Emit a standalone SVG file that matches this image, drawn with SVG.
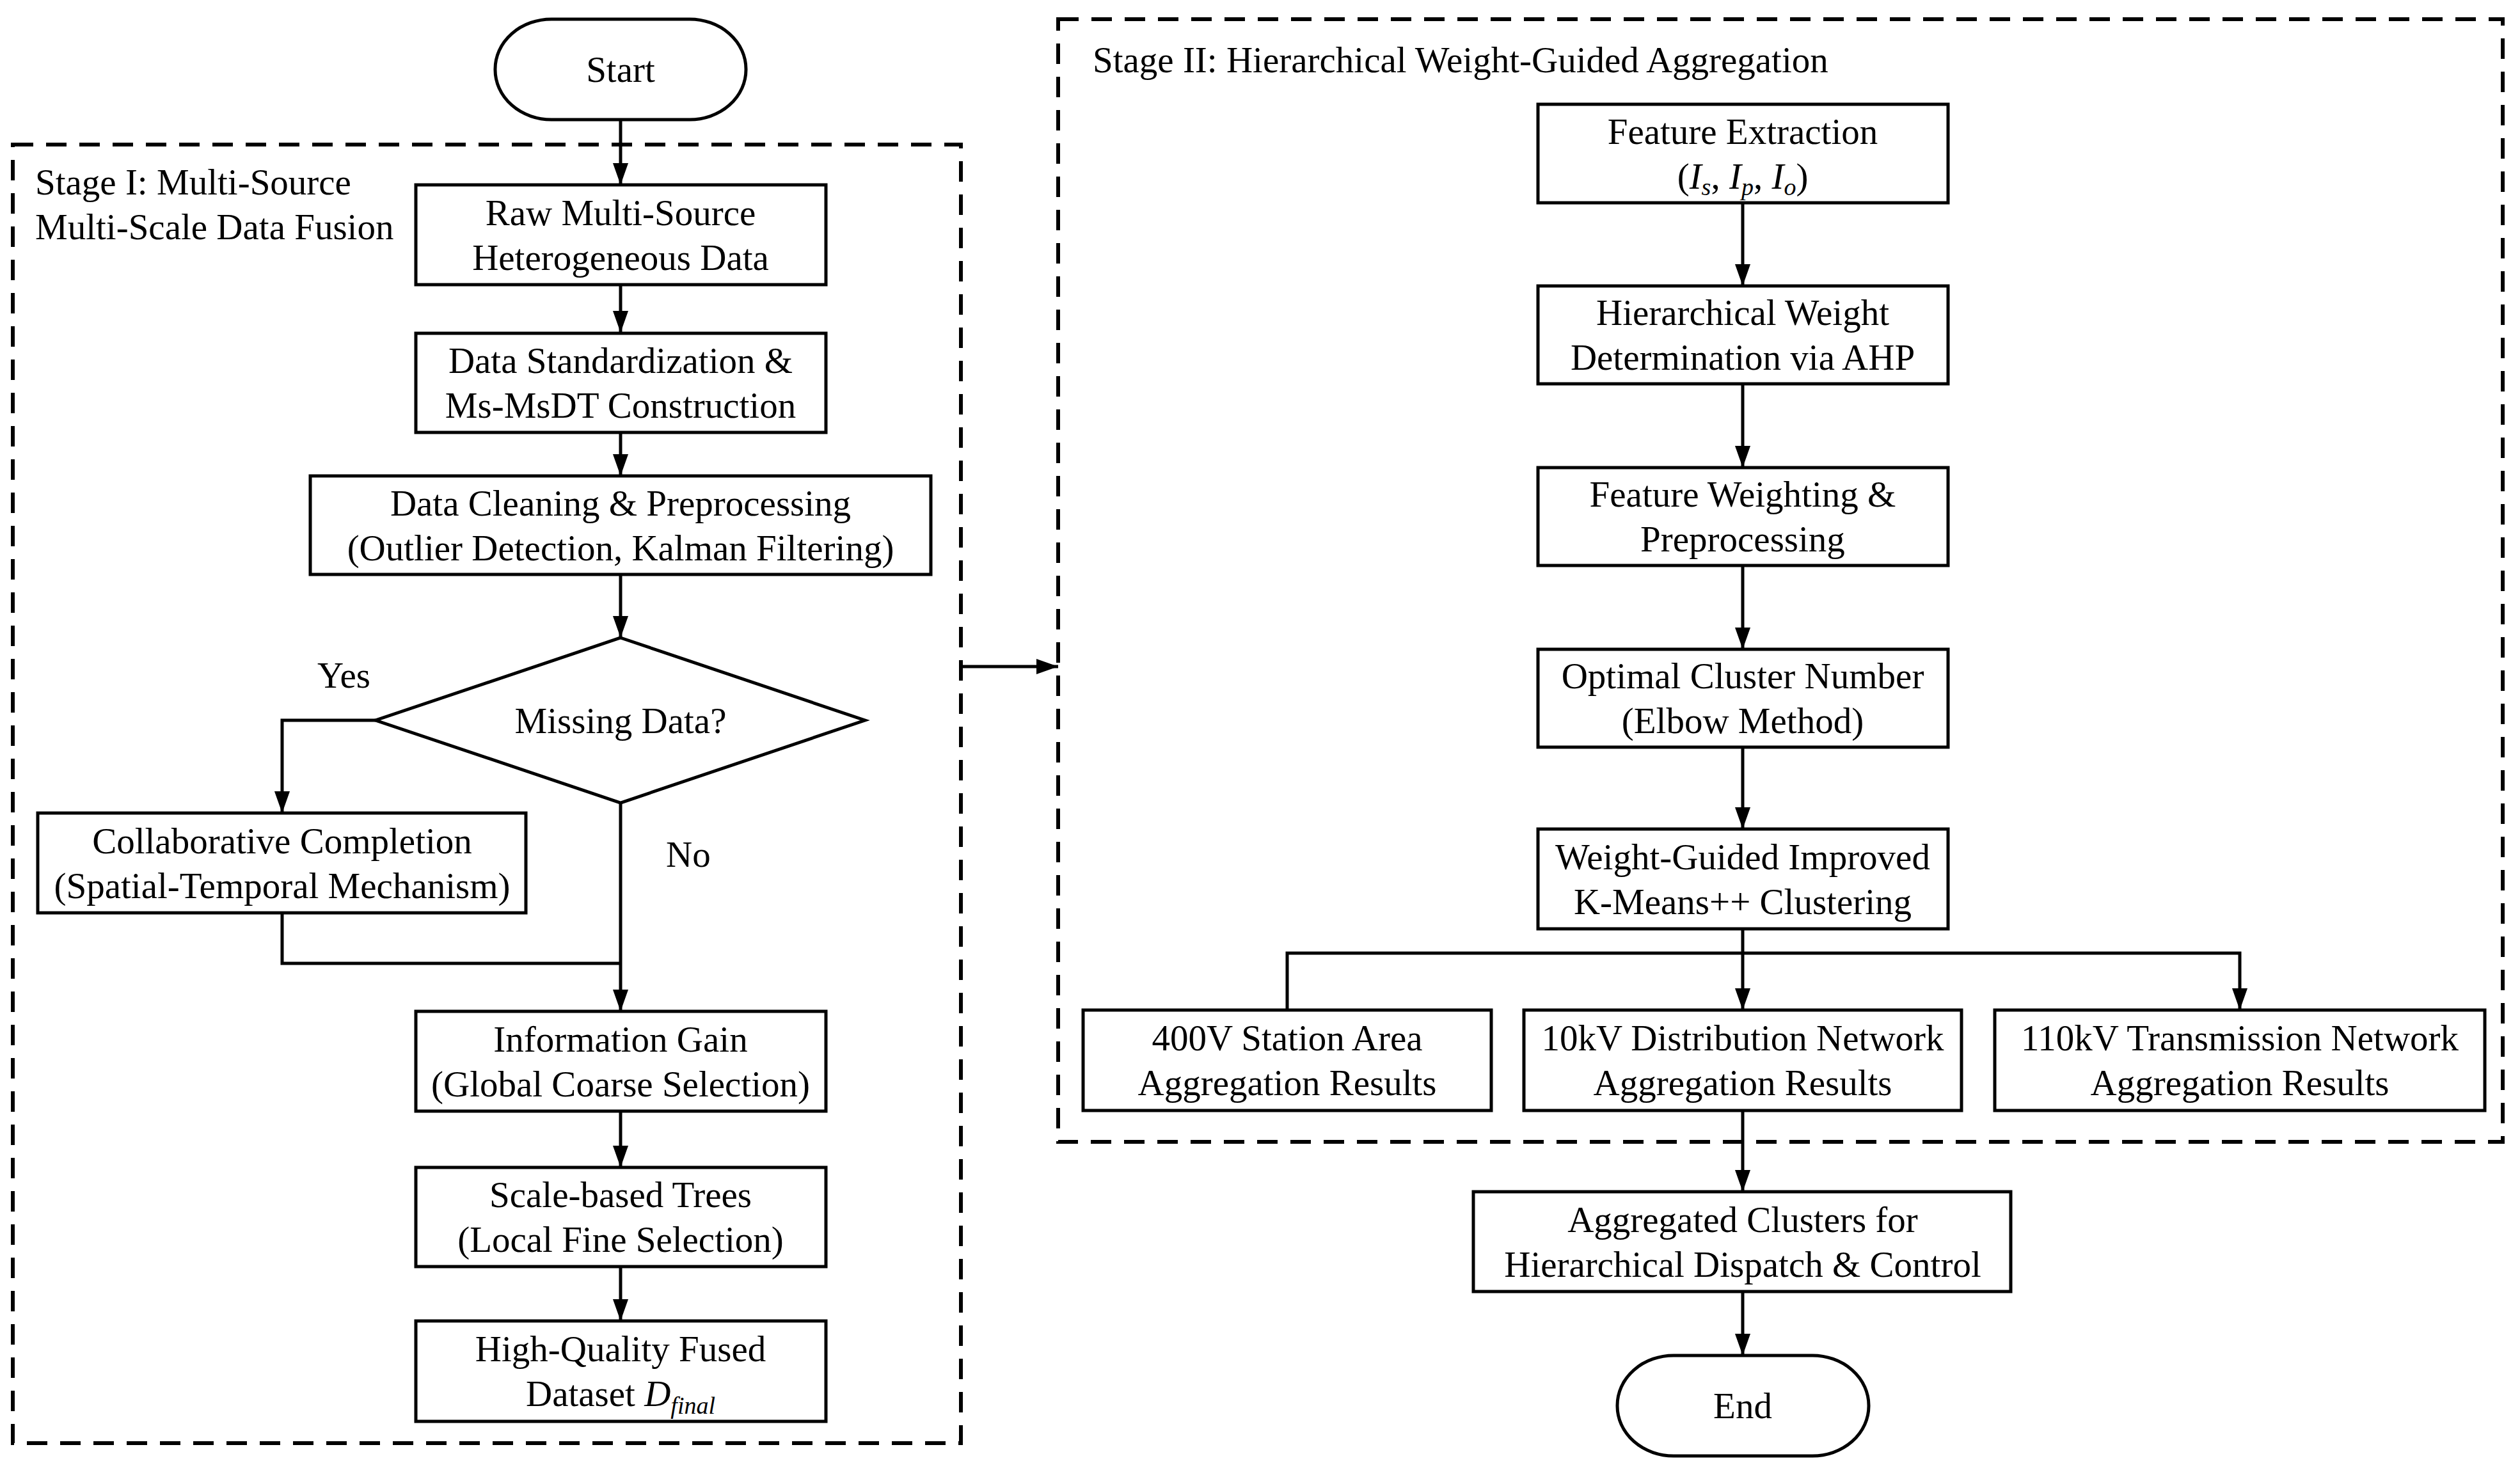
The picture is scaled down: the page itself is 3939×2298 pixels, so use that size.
<svg xmlns="http://www.w3.org/2000/svg" width="3939" height="2298" viewBox="0 0 3939 2298">
<style>
.b{fill:#fff;stroke:#000;stroke-width:5}
.d{fill:none;stroke:#000;stroke-width:6;stroke-dasharray:32 20}
.c{fill:none;stroke:#000;stroke-width:5}
text{font-family:"Liberation Serif","Times New Roman",serif;font-size:57px;fill:#000}
.m{text-anchor:middle}
</style>
<defs>
<marker id="a" markerUnits="userSpaceOnUse" markerWidth="34" markerHeight="48" refX="48" refY="17" orient="auto" viewBox="0 0 48 34"><path d="M0,0 L48,17 L0,34 Z" fill="#000"/></marker>
</defs>
<rect class="d" x="20" y="226" width="1482" height="2030"/>
<rect class="d" x="1654" y="30" width="2258" height="1755"/>
<text x="55" y="304">Stage I: Multi-Source</text>
<text x="55" y="374">Multi-Scale Data Fusion</text>
<text x="1708" y="113">Stage II: Hierarchical Weight-Guided Aggregation</text>
<g id="connectors">
<path class="c" marker-end="url(#a)" d="M970,187V289"/>
<path class="c" marker-end="url(#a)" d="M970,445V520"/>
<path class="c" marker-end="url(#a)" d="M970,676V744"/>
<path class="c" marker-end="url(#a)" d="M970,898V997"/>
<path class="c" marker-end="url(#a)" d="M587,1126H441V1271"/>
<path class="c" d="M441,1427V1506H970"/>
<path class="c" marker-end="url(#a)" d="M970,1255V1581"/>
<path class="c" marker-end="url(#a)" d="M970,1737V1825"/>
<path class="c" marker-end="url(#a)" d="M970,1980V2065"/>
<path class="c" marker-end="url(#a)" d="M1502,1042H1654"/>
<path class="c" marker-end="url(#a)" d="M2724,317V447"/>
<path class="c" marker-end="url(#a)" d="M2724,600V731"/>
<path class="c" marker-end="url(#a)" d="M2724,884V1015"/>
<path class="c" marker-end="url(#a)" d="M2724,1168V1296"/>
<path class="c" marker-end="url(#a)" d="M2724,1452V1579"/>
<path class="c" marker-end="url(#a)" d="M2012,1579V1490H3501V1579"/>
<path class="c" marker-end="url(#a)" d="M2724,1736V1863"/>
<path class="c" marker-end="url(#a)" d="M2724,2019V2119"/>
<text x="496" y="1075">Yes</text>
<text x="1041" y="1355">No</text>
</g>
<g id="start"><rect class="b" x="774" y="30" width="392" height="157" rx="88" ry="78"/><text class="m" x="970" y="128">Start</text></g>
<g id="raw"><rect class="b" x="650" y="289" width="641" height="156"/><text class="m" x="970" y="352">Raw Multi-Source</text><text class="m" x="970" y="422">Heterogeneous Data</text></g>
<g id="std"><rect class="b" x="650" y="521" width="641" height="155"/><text class="m" x="970" y="583">Data Standardization &amp;</text><text class="m" x="970" y="653">Ms-MsDT Construction</text></g>
<g id="clean"><rect class="b" x="485" y="744" width="970" height="154"/><text class="m" x="970" y="806">Data Cleaning &amp; Preprocessing</text><text class="m" x="970" y="876">(Outlier Detection, Kalman Filtering)</text></g>
<g id="missing"><path class="b" d="M970,997L1352,1126L970,1255L587,1126Z"/><text class="m" x="970" y="1146">Missing Data?</text></g>
<g id="collab"><rect class="b" x="59" y="1271" width="763" height="156"/><text class="m" x="441" y="1334">Collaborative Completion</text><text class="m" x="441" y="1404">(Spatial-Temporal Mechanism)</text></g>
<g id="info"><rect class="b" x="650" y="1581" width="641" height="156"/><text class="m" x="970" y="1644">Information Gain</text><text class="m" x="970" y="1714">(Global Coarse Selection)</text></g>
<g id="scale"><rect class="b" x="650" y="1825" width="641" height="155"/><text class="m" x="970" y="1887">Scale-based Trees</text><text class="m" x="970" y="1957">(Local Fine Selection)</text></g>
<g id="hq"><rect class="b" x="650" y="2065" width="641" height="157"/><text class="m" x="970" y="2128">High-Quality Fused</text><text class="m" x="970" y="2198">Dataset <tspan font-style="italic">D</tspan><tspan font-style="italic" font-size="38" dy="12">final</tspan></text></g>
<g id="fe"><rect class="b" x="2404" y="163" width="641" height="154"/><text class="m" x="2724" y="225">Feature Extraction</text><text class="m" x="2724" y="295">(<tspan font-style="italic">I</tspan><tspan font-style="italic" font-size="38" dy="10">s</tspan><tspan dy="-10">, </tspan><tspan font-style="italic">I</tspan><tspan font-style="italic" font-size="38" dy="10">p</tspan><tspan dy="-10">, </tspan><tspan font-style="italic">I</tspan><tspan font-style="italic" font-size="38" dy="10">o</tspan><tspan dy="-10">)</tspan></text></g>
<g id="ahp"><rect class="b" x="2404" y="447" width="641" height="153"/><text class="m" x="2724" y="508">Hierarchical Weight</text><text class="m" x="2724" y="578">Determination via AHP</text></g>
<g id="fw"><rect class="b" x="2404" y="731" width="641" height="153"/><text class="m" x="2724" y="792">Feature Weighting &amp;</text><text class="m" x="2724" y="862">Preprocessing</text></g>
<g id="ocn"><rect class="b" x="2404" y="1015" width="641" height="153"/><text class="m" x="2724" y="1076">Optimal Cluster Number</text><text class="m" x="2724" y="1146">(Elbow Method)</text></g>
<g id="km"><rect class="b" x="2404" y="1296" width="641" height="156"/><text class="m" x="2724" y="1359">Weight-Guided Improved</text><text class="m" x="2724" y="1429">K-Means++ Clustering</text></g>
<g id="r400"><rect class="b" x="1693" y="1579" width="638" height="157"/><text class="m" x="2012" y="1642">400V Station Area</text><text class="m" x="2012" y="1712">Aggregation Results</text></g>
<g id="r10"><rect class="b" x="2382" y="1579" width="684" height="157"/><text class="m" x="2724" y="1642">10kV Distribution Network</text><text class="m" x="2724" y="1712">Aggregation Results</text></g>
<g id="r110"><rect class="b" x="3118" y="1579" width="766" height="157"/><text class="m" x="3501" y="1642">110kV Transmission Network</text><text class="m" x="3501" y="1712">Aggregation Results</text></g>
<g id="agg"><rect class="b" x="2303" y="1863" width="840" height="156"/><text class="m" x="2724" y="1926">Aggregated Clusters for</text><text class="m" x="2724" y="1996">Hierarchical Dispatch &amp; Control</text></g>
<g id="end"><rect class="b" x="2528" y="2119" width="393" height="157" rx="88" ry="78"/><text class="m" x="2724" y="2217">End</text></g>
</svg>
